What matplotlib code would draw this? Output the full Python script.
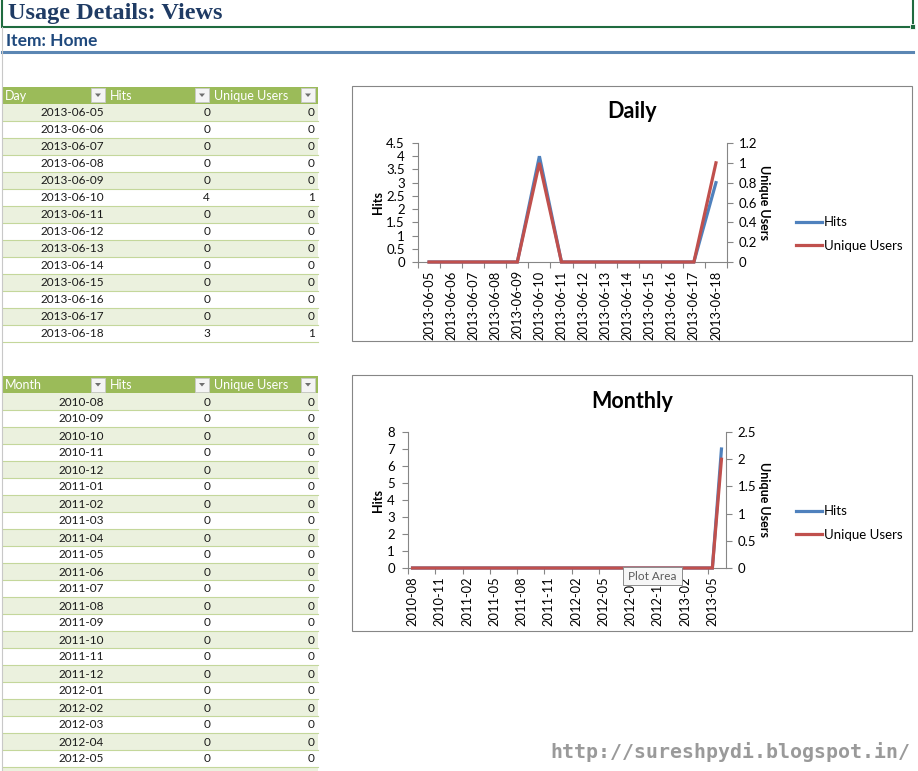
import numpy as np
import matplotlib
matplotlib.use("Agg")
import matplotlib.pyplot as plt
from matplotlib.patches import Rectangle, Polygon
from matplotlib.ticker import FuncFormatter

W, H = 918, 771
FONT = ['Lato', 'DejaVu Sans']
plt.rcParams['font.family'] = FONT

# ---------------- data ----------------
day_labels = ['2013-06-05', '2013-06-06', '2013-06-07', '2013-06-08', '2013-06-09',
              '2013-06-10', '2013-06-11', '2013-06-12', '2013-06-13', '2013-06-14',
              '2013-06-15', '2013-06-16', '2013-06-17', '2013-06-18']
day_hits = [0, 0, 0, 0, 0, 4, 0, 0, 0, 0, 0, 0, 0, 3]
day_users = [0, 0, 0, 0, 0, 1, 0, 0, 0, 0, 0, 0, 0, 1]

month_labels = ['2010-08', '2010-09', '2010-10', '2010-11', '2010-12',
                '2011-01', '2011-02', '2011-03', '2011-04', '2011-05', '2011-06',
                '2011-07', '2011-08', '2011-09', '2011-10', '2011-11', '2011-12',
                '2012-01', '2012-02', '2012-03', '2012-04', '2012-05', '2012-06',
                '2012-07', '2012-08', '2012-09', '2012-10', '2012-11', '2012-12',
                '2013-01', '2013-02', '2013-03', '2013-04', '2013-05', '2013-06']
month_hits = [0, 0, 0, 0, 0,
              0, 0, 0, 0, 0, 0, 0, 0, 0, 0, 0, 0,
              0, 0, 0, 0, 0, 0, 0, 0, 0, 0, 0, 0,
              0, 0, 0, 0, 0, 7]
month_users = [0, 0, 0, 0, 0,
               0, 0, 0, 0, 0, 0, 0, 0, 0, 0, 0, 0,
               0, 0, 0, 0, 0, 0, 0, 0, 0, 0, 0, 0,
               0, 0, 0, 0, 0, 2]

HITS_C = '#4F81BD'
USERS_C = '#C0504D'
AXIS_C = '#868686'

fig = plt.figure(figsize=(W / 100, H / 100), dpi=100)
fig.patch.set_facecolor('white')

bg = fig.add_axes([0, 0, 1, 1])
bg.set_xlim(0, W)
bg.set_ylim(H, 0)
bg.axis('off')


def rect_px(l, t, r, b):
    return [l / W, 1 - b / H, (r - l) / W, (b - t) / H]


# ---------------- sheet header ----------------
bg.plot([2, 2, 913, 913], [0, 27, 27, 0], color='#1F6B3F', lw=1.5, solid_joinstyle='miter')
bg.add_patch(Rectangle((910, 24), 5, 5, fc='#1F6B3F', ec='white', lw=0.6, zorder=5))
bg.text(8, 14, 'Usage Details: Views', family=['Liberation Serif', 'DejaVu Serif'],
        weight='bold', fontsize=17.5, color='#1F3B64', va='center', ha='left')
bg.text(6, 41.5, 'Item: Home', weight='bold', fontsize=12.5, color='#1F497D',
        va='center', ha='left')
bg.plot([2, 913], [52, 52], color='#5B86B3', lw=2.2)
bg.plot([2, 2], [27, H], color='#C8C8C8', lw=0.8)


# ---------------- tables ----------------
def draw_table(top, first_name, labels, hits, users):
    x0, x1, x2, x3 = 3, 108, 212, 318
    rh = 17.0
    bg.add_patch(Rectangle((x0, top), x3 - x0, rh, fc='#9BBB59', ec='none'))
    for xs, xe, name in [(x0, x1, first_name), (x1, x2, 'Hits'), (x2, x3, 'Unique Users')]:
        bg.text(xs + 2, top + rh / 2 + 0.5, name, color='white', fontsize=9,
                va='center', ha='left')
        bx = xe - 17
        bg.add_patch(Rectangle((bx, top + 1.5), 14, 14, fc='#F4F4F4', ec='#C8C8C8', lw=0.6))
        bg.add_patch(Polygon([[bx + 4, top + 7], [bx + 10, top + 7], [bx + 7, top + 10.5]],
                             closed=True, fc='#6F6F6F', ec='none'))
    for i, (lab, h, u) in enumerate(zip(labels, hits, users)):
        y = top + rh * (i + 1)
        if y >= H:
            break
        if i % 2 == 0:
            bg.add_patch(Rectangle((x0, y), x3 - x0, rh, fc='#EBF1DE', ec='none', clip_on=True))
        bg.plot([x0, x3], [y + rh, y + rh], color='#C4D79B', lw=0.8, clip_on=True)
        cy = y + rh / 2 + 0.5
        if cy + 6 > H:
            continue
        bg.text(x1 - 4, cy, lab, fontsize=8.5, ha='right', va='center', color='#1A1A1A')
        bg.text(x2 - 2, cy, str(h), fontsize=8.5, ha='right', va='center', color='#1A1A1A')
        bg.text(x3 - 3, cy, str(u), fontsize=8.5, ha='right', va='center', color='#1A1A1A')


draw_table(86.5, 'Day', day_labels, day_hits, day_users)
draw_table(376, 'Month', month_labels, month_hits, month_users)

# ---------------- chart boxes ----------------
bg.add_patch(Rectangle((352, 86), 560, 255, fc='white', ec=AXIS_C, lw=0.8))
bg.add_patch(Rectangle((352, 375), 560, 256, fc='white', ec=AXIS_C, lw=0.8))

fmt = FuncFormatter(lambda v, p: ('%g' % round(v, 2)))


def chart(l, t, r, b, labels, hits, users, lmax, lstep, rmax, rstep, every,
          title, title_y, legend_y):
    ax = fig.add_axes(rect_px(l, t, r, b))
    ax.patch.set_alpha(0)
    x = np.arange(len(labels))
    lh, = ax.plot(x, hits, color=HITS_C, lw=2.3, solid_joinstyle='miter', clip_on=False)
    ax2 = ax.twinx()
    lu, = ax2.plot(x, users, color=USERS_C, lw=2.3, solid_joinstyle='miter', clip_on=False)
    ax.set_xlim(-0.5, len(labels) - 0.5)
    ax.set_ylim(0, lmax)
    ax.set_yticks(np.arange(0, lmax + 1e-9, lstep))
    ax2.set_ylim(0, rmax)
    ax2.set_yticks(np.arange(0, rmax + 1e-9, rstep))
    ax.yaxis.set_major_formatter(fmt)
    ax2.yaxis.set_major_formatter(fmt)
    ax.set_xticks(x[::every])
    ax.set_xticklabels(labels[::every], rotation=90)
    ax.set_xticks(np.arange(-0.5, len(labels), every), minor=True)
    ax.tick_params(axis='x', which='major', length=0, pad=6, labelsize=9.3)
    ax.tick_params(axis='x', which='minor', length=4, width=0.8, color=AXIS_C, direction='out')
    ax.tick_params(axis='y', length=4, width=0.8, color=AXIS_C, pad=5.5, labelsize=9.5)
    ax2.tick_params(axis='y', length=4, width=0.8, color=AXIS_C, pad=4.5, labelsize=9.5)
    for s in ['top', 'right']:
        ax.spines[s].set_visible(False)
    for s in ['top', 'left', 'bottom']:
        ax2.spines[s].set_visible(False)
    for a, s in [(ax, 'left'), (ax, 'bottom'), (ax2, 'right')]:
        a.spines[s].set_color(AXIS_C)
        a.spines[s].set_linewidth(0.8)
    ax.set_ylabel('Hits', fontsize=9, fontweight='bold')
    ax.yaxis.set_label_coords((378 - l) / (r - l), 0.5)
    ax.yaxis.label.set_va('center')
    ax2.set_ylabel('Unique Users', fontsize=9, fontweight='bold', rotation=270)
    ax2.yaxis.set_label_coords((764 - l) / (r - l), 0.5)
    ax2.yaxis.label.set_va('center')
    ax2.yaxis.label.set_ha('center')
    bg.text(632, title_y, title, fontsize=15.5, fontweight='bold', ha='center', va='center')
    fig.legend([lh, lu], ['Hits', 'Unique Users'], loc='center left',
               bbox_to_anchor=(796 / W, 1 - legend_y / H), frameon=False,
               handlelength=2.0, handletextpad=0.1, labelspacing=0.85, fontsize=9.5,
               borderpad=0, borderaxespad=0)
    return ax, ax2


chart(418, 143, 727, 262, day_labels, day_hits, day_users, 4.5, 0.5, 1.2, 0.2, 1,
      'Daily', 112, 234)
chart(408, 432, 726, 568, month_labels, month_hits, month_users, 8, 1, 2.5, 0.5, 3,
      'Monthly', 401, 523)

# ---------------- overlay (tooltip, watermark) ----------------
top = fig.add_axes([0, 0, 1, 1])
top.set_xlim(0, W)
top.set_ylim(H, 0)
top.axis('off')
top.patch.set_alpha(0)
top.add_patch(Rectangle((623, 567), 59, 18, fc='#F6F6F6', ec='#8C8C8C', lw=0.7))
top.text(652.5, 576.5, 'Plot Area', fontsize=8.5, color='#5A5A5A', ha='center', va='center')
top.text(550, 752, 'http://sureshpydi.blogspot.in/', family=['DejaVu Sans Mono', 'Liberation Mono'],
         weight='bold', fontsize=14.3, color='#9A9A9A', ha='left', va='center')

fig.savefig('out.png', dpi=100, facecolor='white')
